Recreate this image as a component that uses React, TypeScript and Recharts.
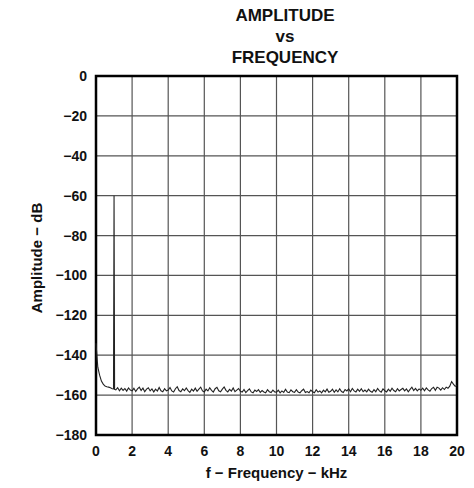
import React from 'react'
import {
  LineChart, Line, XAxis, YAxis, CartesianGrid, ReferenceArea
} from 'recharts'

// spectrum samples every 0.1 kHz, 0.0 .. 20.0 kHz (one row per kHz)
const SAMPLE_STEP_KHZ = 0.1
const amplitudeDb: number[] = [
  -134, -146, -150, -153, -154.5, -155.5, -155.8, -156, -156.3, -156.8,
  -60, -157.4, -156.3, -157.8, -156.5, -157.6, -156.7, -158.0, -156.4, -157.5,
  -157.9, -156.6, -158.2, -156.9, -156.0, -157.7, -156.5, -158.3, -157.0, -156.3,
  -157.9, -156.9, -158.4, -157.0, -158.0, -156.2, -157.8, -158.3, -156.8, -157.9,
  -157.5, -156.2, -157.9, -158.4, -156.8, -155.8, -157.7, -158.3, -156.9, -157.8,
  -156.4, -157.7, -158.6, -157.0, -158.0, -156.5, -158.1, -157.0, -156.0, -157.9,
  -158.4, -157.0, -157.9, -156.3, -157.6, -158.5, -156.8, -156.1, -157.8, -158.3,
  -157.0, -155.9, -157.6, -158.4, -157.1, -158.0, -156.4, -158.3, -157.5, -156.7,
  -158.1, -158.5, -157.2, -158.7, -157.8, -156.9, -158.4, -158.8, -157.5, -158.2,
  -157.3, -158.6, -157.7, -158.4, -158.8, -157.3, -158.3, -158.7, -157.5, -158.4,
  -158.5, -157.5, -158.9, -157.9, -158.6, -157.1, -158.5, -158.8, -157.4, -158.3,
  -158.6, -157.3, -158.5, -158.9, -157.8, -157.0, -158.7, -158.2, -158.8, -157.5,
  -158.3, -158.8, -157.3, -158.5, -157.9, -158.9, -157.5, -158.4, -157.0, -158.6,
  -158.1, -157.0, -158.6, -157.4, -158.4, -156.8, -158.2, -158.7, -157.2, -157.9,
  -156.9, -158.3, -156.7, -157.9, -158.4, -157.0, -158.1, -156.8, -158.3, -157.5,
  -158.4, -157.0, -158.1, -158.6, -157.3, -158.3, -156.7, -157.9, -158.5, -156.9,
  -157.8, -158.4, -157.0, -158.1, -156.5, -157.7, -158.3, -156.8, -157.9, -157.2,
  -156.6, -157.9, -156.9, -158.3, -157.1, -156.0, -157.7, -156.6, -157.9, -156.9,
  -157.6, -156.5, -157.8, -156.4, -157.4, -158.0, -156.7, -156.1, -157.6, -156.0,
  -156.5, -157.5, -156.3, -157.2, -156.0, -156.6, -155.5, -153.2, -154.5, -155.6,
  -155.0,
]

// extra samples either side of the 1 kHz tone so the spike stays narrow
const spikeShoulderKhz = [0.97, 1.03]
const spikeShoulderDb = [-156.9, -157.1]

const freqTicks = [0, 2, 4, 6, 8, 10, 12, 14, 16, 18, 20]
const ampTicks = [0, -20, -40, -60, -80, -100, -120, -140, -160, -180]

const data = [
  ...amplitudeDb.map((db, i) => ({ f: +(i * SAMPLE_STEP_KHZ).toFixed(2), db })),
  ...spikeShoulderKhz.map((f, i) => ({ f, db: spikeShoulderDb[i] })),
].sort((a, b) => a.f - b.f)

const FONT = '"Liberation Sans", Arial, Helvetica, sans-serif'
const tickStyle = { fontSize: 14, fontWeight: 700, fill: '#111', fontFamily: FONT }
const fmtMinus = (v: number) => (v < 0 ? `\u2212${-v}` : `${v}`)

export default function App() {
  return (
    <div style={{ position: 'absolute', left: 0, top: 0, width: 474, height: 488, background: '#fff', fontFamily: FONT }}>
      <div style={{ position: 'absolute', left: 185, width: 200, top: 5, textAlign: 'center', fontSize: 17, fontWeight: 700, lineHeight: '21px', color: '#111' }}>
        <div>AMPLITUDE</div>
        <div>vs</div>
        <div>FREQUENCY</div>
      </div>
      <LineChart
        width={474}
        height={488}
        data={data}
        margin={{ top: 76, right: 17, bottom: 23, left: 36 }}
      >
        <CartesianGrid stroke="#555" strokeWidth={1.2} />
        <XAxis
          dataKey="f"
          type="number"
          domain={[0, 20]}
          ticks={freqTicks}
          axisLine={false}
          tickLine={false}
          tickSize={0}
          tickMargin={11}
          height={30}
          tick={tickStyle}
          interval={0}
        />
        <YAxis
          type="number"
          domain={[-180, 0]}
          ticks={ampTicks}
          axisLine={false}
          tickLine={false}
          tickSize={0}
          tickMargin={9}
          width={60}
          tick={tickStyle}
          tickFormatter={fmtMinus}
          interval={0}
        />
        <Line
          type="linear"
          dataKey="db"
          stroke="#222"
          strokeWidth={1.1}
          dot={false}
          activeDot={false}
          isAnimationActive={false}
        />
        <ReferenceArea x1={0} x2={20} y1={-180} y2={0} fill="none" stroke="#000" strokeWidth={2.5} />
      </LineChart>
      <div style={{ position: 'absolute', left: 96, width: 361, top: 463, textAlign: 'center', fontSize: 15, fontWeight: 700, lineHeight: '20px', color: '#111' }}>
        f {'\u2212'} Frequency {'\u2212'} kHz
      </div>
      <div style={{ position: 'absolute', left: 37, top: 258, transform: 'translate(-50%, -50%) rotate(-90deg)', whiteSpace: 'nowrap', fontSize: 15, fontWeight: 700, lineHeight: '20px', color: '#111' }}>
        Amplitude {'\u2212'} dB
      </div>
    </div>
  )
}
